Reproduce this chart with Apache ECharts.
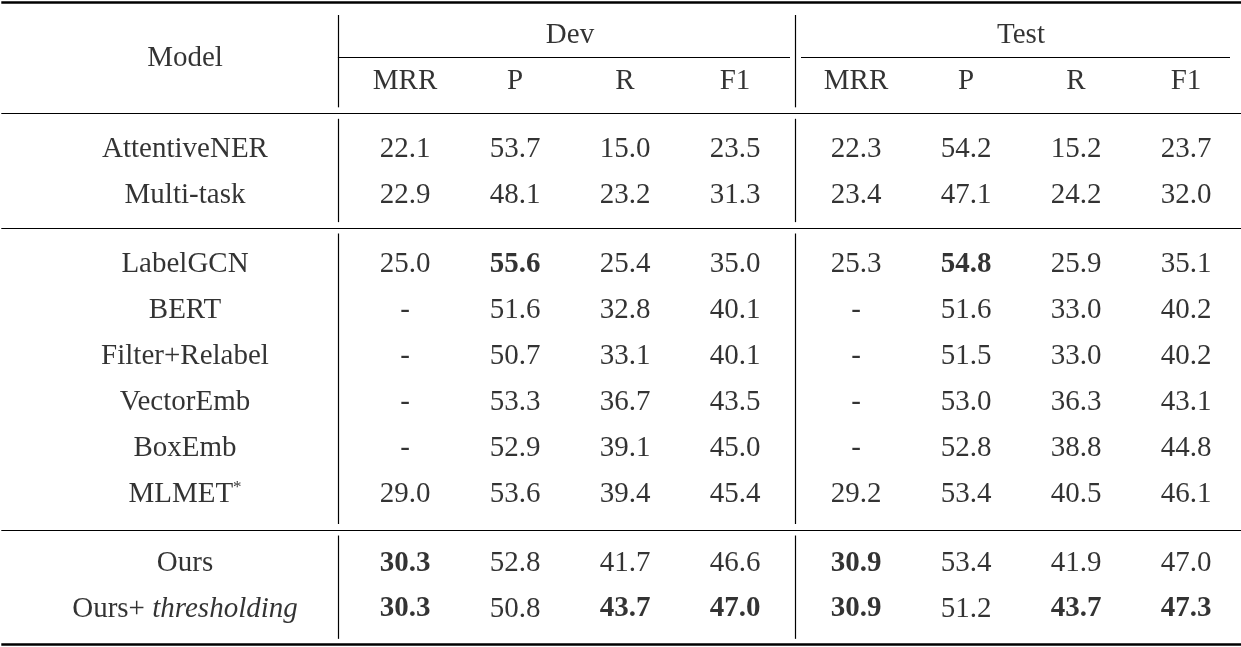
<!DOCTYPE html><html><head><meta charset="utf-8"><script src="https://cdn.jsdelivr.net/npm/echarts@6/dist/echarts.min.js"></script>
<style>html,body{margin:0;background:#fff}#c{width:1241px;height:647px}</style></head><body><div id="c"></div><script>
const models=['AttentiveNER','Multi-task','LabelGCN','BERT','Filter+Relabel','VectorEmb','BoxEmb','MLMET*','Ours','Ours+ thresholding'];
const devMRR=['22.1','22.9','25.0','-','-','-','-','29.0','30.3','30.3'];
const devP=['53.7','48.1','55.6','51.6','50.7','53.3','52.9','53.6','52.8','50.8'];
const devR=['15.0','23.2','25.4','32.8','33.1','36.7','39.1','39.4','41.7','43.7'];
const devF1=['23.5','31.3','35.0','40.1','40.1','43.5','45.0','45.4','46.6','47.0'];
const testMRR=['22.3','23.4','25.3','-','-','-','-','29.2','30.9','30.9'];
const testP=['54.2','47.1','54.8','51.6','51.5','53.0','52.8','53.4','53.4','51.2'];
const testR=['15.2','24.2','25.9','33.0','33.0','36.3','38.8','40.5','41.9','43.7'];
const testF1=['23.7','32.0','35.1','40.2','40.2','43.1','44.8','46.1','47.0','47.3'];
const subHeaders=['MRR','P','R','F1','MRR','P','R','F1'];
const bold=[[2,2],[8,1],[9,1],[9,3],[9,4],[2,6],[8,5],[9,5],[9,7],[9,8]];
const colX=[0,2,3,4,5,6.1,7.1,8.1,9.1];
const rowY=[5,7,10,12,14,16,18,20,23,25];
const cols=[models,devMRR,devP,devR,devF1,testMRR,testP,testR,testF1];
const F='Liberation Serif';
const pts=[];
cols.forEach((col,c)=>col.forEach((v,r)=>{
 const b=bold.some(q=>q[0]===r&&q[1]===c);
 let txt=v;
 if(v==='MLMET*'){txt='MLMET{s|*}';}
 if(v==='Ours+ thresholding'){txt='Ours+ {i|thresholding}';}
 pts.push({value:[colX[c],rowY[r]],name:txt,label:{fontWeight:b?'bold':'normal'}});
}));
pts.push({value:[0,1],name:'Model'});
pts.push({value:[3.5,0],name:'Dev'});pts.push({value:[7.6,0],name:'Test'});
subHeaders.forEach((h,i)=>pts.push({value:[colX[i+1],2],name:h}));
const X0=-1.67,X1=9.6;
const L=(x1,y1,x2,y2,w)=>[{coord:[x1,y1],lineStyle:{width:w}},{coord:[x2,y2]}];
const lines=[L(X0,-1.42,X1,-1.42,2.5),L(1.39,0.96,5.5,0.96,1.2),L(5.6,0.96,9.5,0.96,1.2),
L(X0,3.4,X1,3.4,1.2),L(X0,8.4,X1,8.4,1.2),L(X0,21.56,X1,21.56,1.2),L(X0,26.55,X1,26.55,2.5)];
[1.39,5.55].forEach(x=>{[[-0.87,3.15],[3.65,8.15],[8.65,21.3],[21.8,26.3]].forEach(s=>lines.push(L(x,s[0],x,s[1],1.2)));});
const ch=echarts.init(document.getElementById('c'));
ch.setOption({animation:false,
grid:{left:0,right:0,top:0,bottom:0},
xAxis:{type:'value',min:-185/110,max:-185/110+1241/110,show:false},
yAxis:{type:'value',inverse:true,min:-35/22.96,max:-35/22.96+647/22.96,show:false},
series:[{type:'scatter',symbolSize:0,data:pts,
label:{show:true,position:'inside',formatter:p=>p.name,fontFamily:F,fontSize:29,color:'#000',
 rich:{s:{fontFamily:F,fontSize:17,color:'#000',verticalAlign:'top',padding:[0,0,14,0]},i:{fontFamily:F,fontSize:29,color:'#000',fontStyle:'italic'}}},
markLine:{silent:true,symbol:'none',label:{show:false},lineStyle:{color:'#000',type:'solid'},data:lines}}]});
</script></body></html>
